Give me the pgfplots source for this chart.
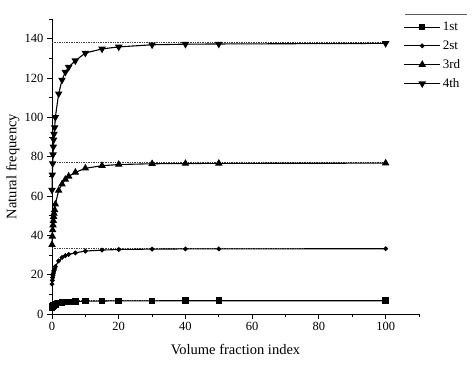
\documentclass[border=0pt]{standalone}
\usepackage{pgfplots}
\pgfplotsset{compat=1.18}
\usepackage{fontspec}
\setmainfont{Liberation Serif}
\pgfplotstableread{
k    a     b     c     d
0    3.1   15.2  35.2  63.0
0.1  3.5   17.1  39.5  70.8
0.2  3.8   18.5  42.7  76.5
0.3  4.0   19.5  45.2  81.0
0.4  4.2   20.5  47.4  85.0
0.5  4.4   21.4  49.5  88.6
0.6  4.5   22.1  51.1  91.5
0.8  4.7   22.9  52.9  94.8
1    4.9   24.1  55.8  100.0
2    5.5   27.0  62.8  112.0
3    5.9   28.7  66.0  119.0
4    6.1   29.7  68.4  123.0
5    6.2   30.3  70.0  125.5
7    6.3   31.1  72.0  128.8
10   6.5   32.0  74.1  132.7
15   6.6   32.5  75.4  134.8
20   6.7   32.8  76.0  135.8
30   6.7   33.0  76.4  136.9
40   6.75  33.1  76.5  137.2
50   6.75  33.1  76.6  137.3
100  6.75  33.2  76.7  137.6
}\data
\begin{document}
\begin{tikzpicture}
\path[use as bounding box] (-52pt,-60pt) rectangle (422pt,314pt);
\begin{axis}[
  scale only axis,
  width=367pt, height=295pt,
  at={(0pt,0pt)}, anchor=south west,
  xmin=0, xmax=110, ymin=0, ymax=150,
  axis x line=bottom, axis y line=left,
  axis line style={-, line width=0.9pt},
  xtick={0,20,...,100}, ytick={0,20,...,140},
  minor x tick num=1, minor y tick num=1,
  extra x ticks={110}, extra x tick labels={},
  extra x tick style={major tick length=3pt},
  extra y ticks={150}, extra y tick labels={},
  extra y tick style={major tick length=3pt},
  tick align=outside,
  major tick length=5pt, minor tick length=3pt,
  tick style={black, line width=0.9pt},
  tick label style={font=\fontsize{12.5}{14}\selectfont},
  /pgf/number format/assume math mode=true,
  xlabel={Volume fraction index},
  ylabel={Natural frequency},
  label style={font=\fontsize{14.5}{16}\selectfont},
  xlabel style={at={(axis description cs:0.5,0)}, anchor=north, yshift=-27pt},
  ylabel style={at={(axis description cs:-0.107,0.5)}, anchor=center},
  clip=false,
  legend style={draw=none, fill=none, at={(rel axis cs:0.955,1.0)}, anchor=north west,
    font=\fontsize{13}{15}\selectfont, row sep=4.5pt, inner sep=1pt},
  legend cell align=left,
  legend image code/.code={\draw[#1] (0pt,0pt) -- (18pt,0pt) -- (36pt,0pt);
    \draw[#1, only marks] plot coordinates {(18pt,0pt)};},
]
\addplot[black!75, densely dotted, line width=0.7pt, forget plot] coordinates {(0,138) (100,138)};
\addplot[black!75, densely dotted, line width=0.7pt, forget plot] coordinates {(0,77.1) (100,77.1)};
\addplot[black!75, densely dotted, line width=0.7pt, forget plot] coordinates {(0,33.3) (100,33.3)};
\addplot[black!75, densely dotted, line width=0.7pt, forget plot] coordinates {(0,6.9) (100,6.9)};
\addplot[black, line width=1.1pt, mark=square*, mark size=2.7pt] table[x=k, y=a] {\data};
\addlegendentry{1st}
\addplot[black, line width=1.1pt, mark=*, mark size=1.8pt] table[x=k, y=b] {\data};
\addlegendentry{2st}
\addplot[black, line width=1.1pt, mark=triangle*, mark size=3.3pt] table[x=k, y=c] {\data};
\addlegendentry{3rd}
\addplot[black, line width=1.1pt, mark=triangle*, mark options={rotate=180}, mark size=3.3pt] table[x=k, y=d] {\data};
\addlegendentry{4th}
\draw[gray!70!black, line width=0.9pt] (rel axis cs:0.962,1.015) -- (rel axis cs:1.13,1.015);
\end{axis}
\end{tikzpicture}
\end{document}
